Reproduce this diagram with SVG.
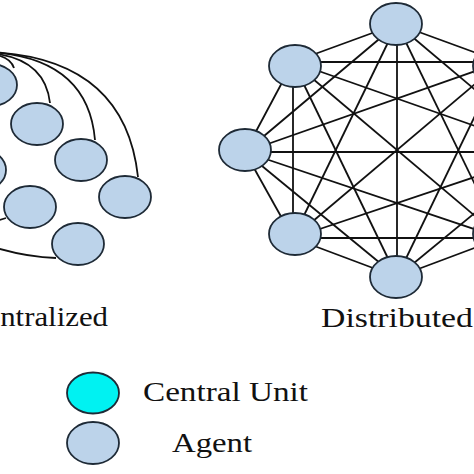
<svg xmlns="http://www.w3.org/2000/svg" width="474" height="474" viewBox="0 0 474 474">
<style>
.agent{fill:#bcd3ea;stroke:#1e2a36;stroke-width:1.8}
.cu{fill:#00f2f2;stroke:#1e2a36;stroke-width:1.8}
.edge{stroke:#111;stroke-width:1.8;fill:none}
.lbl{font-family:"Liberation Serif","Times New Roman",serif;fill:#111}
</style>
<rect width="474" height="474" fill="#fff"/>
<g id="connectors">
<g id="centralized-links">
<path class="edge" d="M-10 52 Q125 58 138 177"/>
<path class="edge" d="M-10 52 Q88 58 95 140"/>
<path class="edge" d="M-10 53 Q45 58 50 103"/>
<path class="edge" d="M-10 54 Q10 56 14 68"/>
<path class="edge" d="M-10 223 L6 218"/>
<path class="edge" d="M-10 246 Q25 257 56 258"/>
</g>
<g id="distributed-links">
<line class="edge" x1="397" y1="24" x2="501" y2="62"/>
<line class="edge" x1="397" y1="24" x2="549" y2="152"/>
<line class="edge" x1="397" y1="24" x2="501" y2="238"/>
<line class="edge" x1="397" y1="24" x2="397" y2="277"/>
<line class="edge" x1="397" y1="24" x2="293" y2="238"/>
<line class="edge" x1="397" y1="24" x2="245" y2="152"/>
<line class="edge" x1="397" y1="24" x2="293" y2="62"/>
<line class="edge" x1="501" y1="62" x2="549" y2="152"/>
<line class="edge" x1="501" y1="62" x2="501" y2="238"/>
<line class="edge" x1="501" y1="62" x2="397" y2="277"/>
<line class="edge" x1="501" y1="62" x2="293" y2="238"/>
<line class="edge" x1="501" y1="62" x2="245" y2="152"/>
<line class="edge" x1="501" y1="62" x2="293" y2="62"/>
<line class="edge" x1="549" y1="152" x2="501" y2="238"/>
<line class="edge" x1="549" y1="152" x2="397" y2="277"/>
<line class="edge" x1="549" y1="152" x2="293" y2="238"/>
<line class="edge" x1="549" y1="152" x2="245" y2="152"/>
<line class="edge" x1="549" y1="152" x2="293" y2="62"/>
<line class="edge" x1="501" y1="238" x2="397" y2="277"/>
<line class="edge" x1="501" y1="238" x2="293" y2="238"/>
<line class="edge" x1="501" y1="238" x2="245" y2="152"/>
<line class="edge" x1="501" y1="238" x2="293" y2="62"/>
<line class="edge" x1="397" y1="277" x2="293" y2="238"/>
<line class="edge" x1="397" y1="277" x2="245" y2="152"/>
<line class="edge" x1="397" y1="277" x2="293" y2="62"/>
<line class="edge" x1="293" y1="238" x2="245" y2="152"/>
<line class="edge" x1="293" y1="238" x2="293" y2="62"/>
<line class="edge" x1="245" y1="152" x2="293" y2="62"/>
</g>
</g>
<g id="c-agent-a"><ellipse class="agent" cx="-9" cy="85" rx="26" ry="21"/></g>
<g id="c-agent-b"><ellipse class="agent" cx="37" cy="124" rx="26" ry="21"/></g>
<g id="c-agent-c"><ellipse class="agent" cx="81" cy="160" rx="26" ry="21"/></g>
<g id="c-agent-d"><ellipse class="agent" cx="125" cy="197" rx="26" ry="21"/></g>
<g id="c-agent-g"><ellipse class="agent" cx="-20" cy="170" rx="26" ry="21"/></g>
<g id="c-agent-e"><ellipse class="agent" cx="30" cy="207" rx="26" ry="21"/></g>
<g id="c-agent-f"><ellipse class="agent" cx="78" cy="244" rx="26" ry="21"/></g>
<g id="d-top"><ellipse class="agent" cx="396" cy="24" rx="26" ry="21"/></g>
<g id="d-upper-left"><ellipse class="agent" cx="295" cy="66" rx="26" ry="21"/></g>
<g id="d-left"><ellipse class="agent" cx="245" cy="150" rx="26" ry="21"/></g>
<g id="d-lower-left"><ellipse class="agent" cx="295" cy="234" rx="26" ry="21"/></g>
<g id="d-bottom"><ellipse class="agent" cx="396" cy="277" rx="26" ry="21"/></g>
<g id="d-upper-right"><ellipse class="agent" cx="499" cy="66" rx="26" ry="21"/></g>
<g id="d-right"><ellipse class="agent" cx="549" cy="150" rx="26" ry="21"/></g>
<g id="d-lower-right"><ellipse class="agent" cx="499" cy="234" rx="26" ry="21"/></g>
<g id="titles">
<text class="lbl" x="-34" y="326" font-size="28" textLength="142" lengthAdjust="spacingAndGlyphs">Centralized</text>
<text class="lbl" x="321" y="327" font-size="28" textLength="152" lengthAdjust="spacingAndGlyphs">Distributed</text>
</g>
<g id="legend">
<g id="legend-central"><ellipse class="cu" cx="93" cy="393" rx="26" ry="20.5"/>
<text class="lbl" x="143" y="401" font-size="27" textLength="165" lengthAdjust="spacingAndGlyphs">Central Unit</text></g>
<g id="legend-agent"><ellipse class="agent" cx="93" cy="443" rx="26" ry="21"/>
<text class="lbl" x="172" y="452" font-size="27" textLength="80" lengthAdjust="spacingAndGlyphs">Agent</text></g>
</g>
</svg>
